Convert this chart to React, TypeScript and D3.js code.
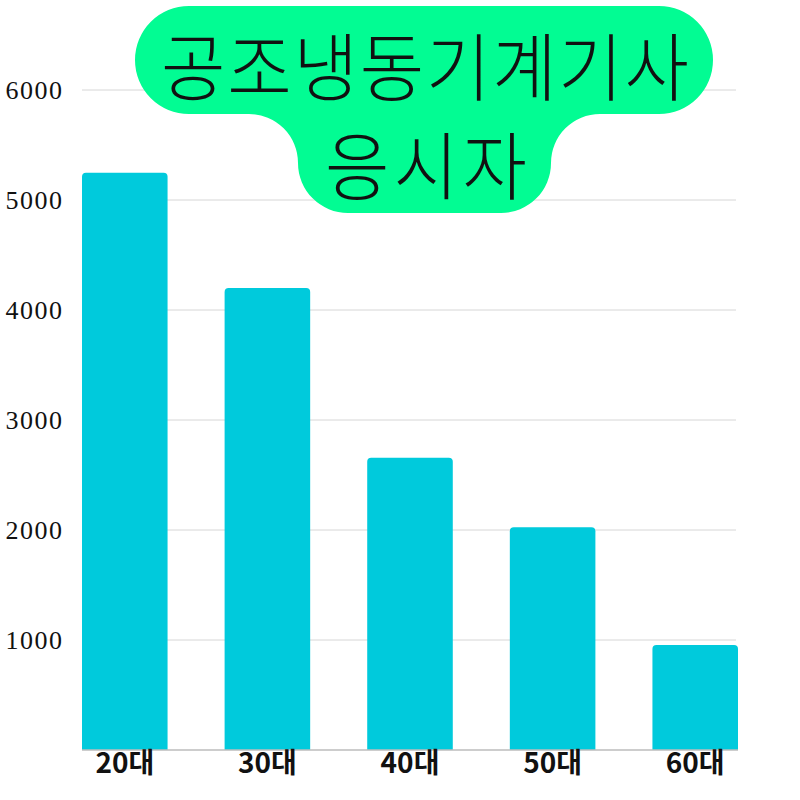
import React from "react";
import * as d3 from "d3";

const categories = ["20대", "30대", "40대", "50대", "60대"];
const values = [5248, 4200, 2657, 2024, 955];
const yTicks = [1000, 2000, 3000, 4000, 5000, 6000];
const titleLines = ["공조냉동기계기사", "응시자"];

const W = 800;
const H = 800;

function topRoundedBar(x: number, y: number, w: number, h: number, r: number) {
  const rr = Math.min(r, h / 2, w / 2);
  const p = d3.path();
  p.moveTo(x, y + h);
  p.lineTo(x, y + rr);
  p.arcTo(x, y, x + rr, y, rr);
  p.lineTo(x + w - rr, y);
  p.arcTo(x + w, y, x + w, y + rr, rr);
  p.lineTo(x + w, y + h);
  p.closePath();
  return p.toString();
}

export default function App() {
  const x = d3
    .scaleBand<string>()
    .domain(categories)
    .range([82, 738])
    .paddingInner(0.4)
    .paddingOuter(0);
  const y = d3.scaleLinear().domain([0, 6000]).range([750, 90]);

  const bubble = [
    "M 189 6",
    "H 659",
    "A 54 54 0 0 1 659 114",
    "H 600",
    "A 49 49 0 0 0 551 163",
    "A 50 50 0 0 1 501 213",
    "H 348",
    "A 50 50 0 0 1 298 163",
    "A 49 49 0 0 0 249 114",
    "H 189",
    "A 54 54 0 0 1 189 6",
    "Z",
  ].join(" ");

  return (
    <svg
      width={W}
      height={H}
      viewBox={`0 0 ${W} ${H}`}
      style={{ position: "absolute", left: 0, top: 0, display: "block", background: "#fff" }}
    >
      <rect x={0} y={0} width={W} height={H} fill="#ffffff" />
      {yTicks.map((t) => (
        <g key={t}>
          <line x1={82} x2={736} y1={y(t)} y2={y(t)} stroke="#d6d6d6" strokeWidth={1} />
          <text
            x={63.5}
            y={y(t)}
            textAnchor="end"
            dominantBaseline="central"
            fontFamily="'Liberation Serif', serif"
            fontSize={26}
            letterSpacing={1.5}
            fill="#111"
          >
            {t}
          </text>
        </g>
      ))}
      {categories.map((c, i) => {
        const bx = x(c)!;
        const by = y(values[i]);
        return (
          <path
            key={c}
            d={topRoundedBar(bx, by, x.bandwidth(), y(0) - by, 4)}
            fill="#00CADC"
          />
        );
      })}
      <line x1={82} x2={738} y1={y(0)} y2={y(0)} stroke="#bdbdbd" strokeWidth={1.5} />
      {categories.map((c) => (
        <text
          key={c}
          x={x(c)! + x.bandwidth() / 2}
          y={773}
          textAnchor="middle"
          fontFamily="'Noto Sans CJK KR', sans-serif"
          fontWeight={700}
          fontSize={28}
          fill="#111"
        >
          {c}
        </text>
      ))}
      <path d={bubble} fill="#02FC93" />
      <g transform="translate(425,63) scale(1,1.06)">
        <text
          x={0}
          y={0}
          textAnchor="middle"
          dominantBaseline="central"
          fontFamily="'Noto Sans CJK KR', sans-serif"
          fontWeight={300}
          fontSize={70}
          fill="#111"
          textLength={528}
          lengthAdjust="spacing"
        >
          {titleLines[0]}
        </text>
      </g>
      <g transform="translate(426,162) scale(1,1.06)">
        <text
          x={0}
          y={0}
          textAnchor="middle"
          dominantBaseline="central"
          fontFamily="'Noto Sans CJK KR', sans-serif"
          fontWeight={300}
          fontSize={70}
          fill="#111"
          textLength={202}
          lengthAdjust="spacing"
        >
          {titleLines[1]}
        </text>
      </g>
    </svg>
  );
}
